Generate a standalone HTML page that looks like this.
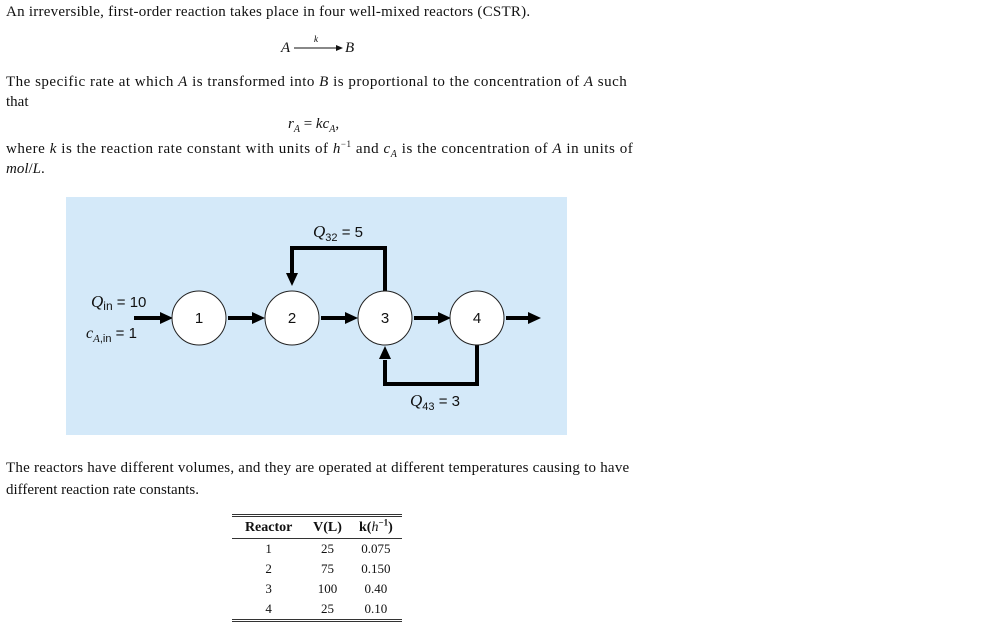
<!DOCTYPE html>
<html><head><meta charset="utf-8"><style>
body{margin:0;width:1008px;height:632px;background:#fff;font-family:"Liberation Serif",serif;font-size:15px;color:#111;position:relative;overflow:hidden}
.t{position:absolute;left:6px;white-space:nowrap;line-height:20px}
i{font-style:italic}
sup,sub{line-height:0}
table{position:absolute;left:232px;top:514px;width:170px;border-collapse:collapse;font-size:13px;border-top:3px double #333;border-bottom:3px double #333}
th{font-size:14px;padding:1px 0 0;height:20px;border-bottom:1px solid #333}
td{text-align:center;height:20px;padding:0}
</style></head><body>
<div class="t" style="top:2px;letter-spacing:0.25px">An irreversible, first-order reaction takes place in four well-mixed reactors (CSTR).</div>
<div class="t" style="left:281px;top:38px"><i>A</i></div>
<svg style="position:absolute;left:0;top:0" width="1008" height="632">
<line x1="294" y1="48" x2="337" y2="48" stroke="#111" stroke-width="1"/><path d="M336,45 L343,48 L336,51z" fill="#111"/>
<text x="314" y="42" font-size="9" font-style="italic" font-family="Liberation Serif">k</text>
</svg>
<div class="t" style="left:345px;top:38px"><i>B</i></div>
<div class="t" style="top:72px;letter-spacing:0.5px">The specific rate at which <i>A</i> is transformed into <i>B</i> is proportional to the concentration of <i>A</i> such</div>
<div class="t" style="top:92px">that</div>
<div class="t" style="left:288px;top:114px"><i>r<sub style="font-size:10px">A</sub></i> = <i>kc<sub style="font-size:10px">A</sub></i>,</div>
<div class="t" style="top:139px;letter-spacing:0.55px">where <i>k</i> is the reaction rate constant with units of <i>h</i><sup style="font-size:9px">−1</sup> and <i>c<sub style="font-size:10px">A</sub></i> is the concentration of <i>A</i> in units of</div>
<div class="t" style="top:159px"><i>mol</i>/<i>L</i>.</div>
<div style="position:absolute;left:66px;top:197px;width:501px;height:238px;background:#d4e9f9"></div>
<svg style="position:absolute;left:0;top:0" width="1008" height="632" font-family="Liberation Sans" font-size="15" fill="#111">
<g stroke="#000" stroke-width="4" fill="none">
<line x1="134" y1="318" x2="162" y2="318"/><line x1="228" y1="318" x2="254" y2="318"/><line x1="321" y1="318" x2="347" y2="318"/><line x1="414" y1="318" x2="440" y2="318"/><line x1="506" y1="318" x2="530" y2="318"/>
<polyline points="385,291 385,248 292,248 292,276"/>
<polyline points="477,345 477,384 385,384 385,360"/>
</g>
<g fill="#000">
<path d="M160,312 L173,318 L160,324z"/><path d="M252,312 L265,318 L252,324z"/><path d="M345,312 L358,318 L345,324z"/><path d="M438,312 L451,318 L438,324z"/><path d="M528,312 L541,318 L528,324z"/>
<path d="M286,273 L292,286 L298,273z"/><path d="M379,359 L385,346 L391,359z"/>
</g>
<g fill="#fff" stroke="#222" stroke-width="1">
<circle cx="199" cy="318" r="27"/><circle cx="292" cy="318" r="27"/><circle cx="385" cy="318" r="27"/><circle cx="477" cy="318" r="27"/>
</g>
<g text-anchor="middle" font-size="15"><text x="199" y="323">1</text><text x="292" y="323">2</text><text x="385" y="323">3</text><text x="477" y="323">4</text></g>
<text x="313" y="237"><tspan font-style="italic" font-family="Liberation Serif" font-size="17">Q</tspan><tspan font-size="11" dy="4">32</tspan><tspan dy="-4"> = 5</tspan></text>
<text x="410" y="406"><tspan font-style="italic" font-family="Liberation Serif" font-size="17">Q</tspan><tspan font-size="11" dy="4">43</tspan><tspan dy="-4"> = 3</tspan></text>
<text x="91" y="307"><tspan font-style="italic" font-family="Liberation Serif" font-size="17">Q</tspan><tspan font-size="12" dy="3">in</tspan><tspan dy="-3"> = 10</tspan></text>
<text x="86" y="338"><tspan font-style="italic" font-family="Liberation Serif" font-size="16">c</tspan><tspan font-size="11" dy="4"><tspan font-style="italic" font-family="Liberation Serif">A</tspan>,in</tspan><tspan dy="-4"> = 1</tspan></text>
</svg>
<div class="t" style="top:458px;letter-spacing:0.23px">The reactors have different volumes, and they are operated at different temperatures causing to have</div>
<div class="t" style="top:480px">different reaction rate constants.</div>
<table>
<tr><th>Reactor</th><th>V(L)</th><th>k(<i style="font-weight:normal">h</i><sup style="font-size:9px">−1</sup>)</th></tr>
<tr><td>1</td><td>25</td><td>0.075</td></tr>
<tr><td>2</td><td>75</td><td>0.150</td></tr>
<tr><td>3</td><td>100</td><td>0.40</td></tr>
<tr><td>4</td><td>25</td><td>0.10</td></tr>
</table>
</body></html>
